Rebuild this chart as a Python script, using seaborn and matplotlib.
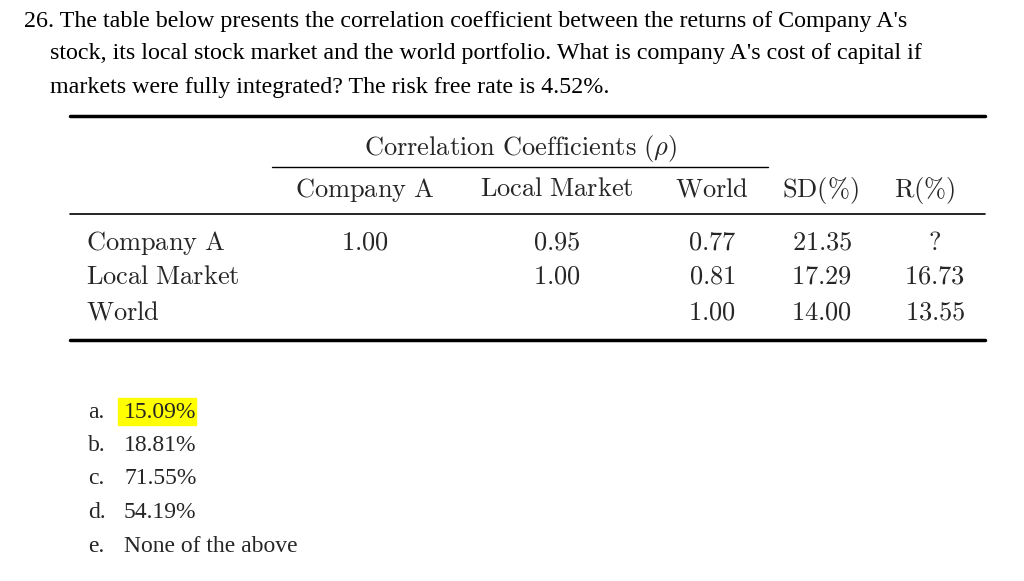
import matplotlib
matplotlib.use("Agg")
import matplotlib.pyplot as plt
import seaborn as sns
from matplotlib.patches import Rectangle

sns.set_style("white")
plt.rcParams['font.family'] = ['Liberation Serif', 'DejaVu Serif']
plt.rcParams['mathtext.fontset'] = 'cm'

question = ["26. The table below presents the correlation coefficient between the returns of Company A's",
            "stock, its local stock market and the world portfolio. What is company A's cost of capital if",
            "markets were fully integrated? The risk free rate is 4.52%."]
group_header = "Correlation Coefficients ($\\rho$)"
columns = ["Company A", "Local Market", "World", "SD(%)", "R(%)"]
rows = ["Company A", "Local Market", "World"]
values = [["1.00", "0.95", "0.77", "21.35", "?"],
          ["", "1.00", "0.81", "17.29", "16.73"],
          ["", "", "1.00", "14.00", "13.55"]]
letters = ["a.", "b.", "c.", "d.", "e."]
answers = ["15.09%", "18.81%", "71.55%", "54.19%", "None of the above"]


def cm(s):
    s = s.replace("%", r"\%").replace(" ", r"\ ")
    s = s.replace("$\\rho$", r"(\rho)").replace("(\\rho)", r"\rho")
    return "$\\mathrm{" + s + "}$"


W, H = 1024, 581
fig = plt.figure(figsize=(W / 100, H / 100), dpi=100)
ax = fig.add_axes([0, 0, 1, 1])
ax.set_xlim(0, W)
ax.set_ylim(H, 0)
ax.axis("off")

qx = [24, 50, 50]
for i, line in enumerate(question):
    ax.text(qx[i], 21 + 33 * i, line, fontsize=17.3, va="center", ha="left", color="black")

ax.plot([70, 985], [116, 116], color="black", lw=2.5)
ax.plot([272, 768], [167, 167], color="black", lw=1)
ax.plot([70, 985], [214, 214], color="black", lw=1.2)
ax.plot([70, 985], [340, 340], color="black", lw=2.5)

TS = 19
ax.text(520, 148, r"$\mathrm{Correlation\ Coefficients\ (}\rho\mathrm{)}$", fontsize=TS, ha="center", va="center")
col_x = [365, 557, 712, 820, 925]
for x, c in zip(col_x, columns):
    ax.text(x, 190, cm(c), fontsize=TS, ha="center", va="center")
row_y = [243, 277, 313]
for y, r, vals in zip(row_y, rows, values):
    ax.text(86, y, cm(r), fontsize=TS, ha="left", va="center")
    for x, v in zip(col_x, vals):
        if v:
            vx = x + (10 if x == 925 else 0) + (2 if x == 820 else 0)
            ax.text(vx, y, cm(v), fontsize=TS, ha="center", va="center")

ax.add_patch(Rectangle((118, 398), 78, 27, color="#ffff00", zorder=0))
for i, (l, a) in enumerate(zip(letters, answers)):
    y = 412 + 33.5 * i
    ax.text(88, y, l, fontsize=17, ha="left", va="center")
    ax.text(124, y, a, fontsize=17, ha="left", va="center")

fig.savefig("out.png", dpi=100, facecolor="white")
